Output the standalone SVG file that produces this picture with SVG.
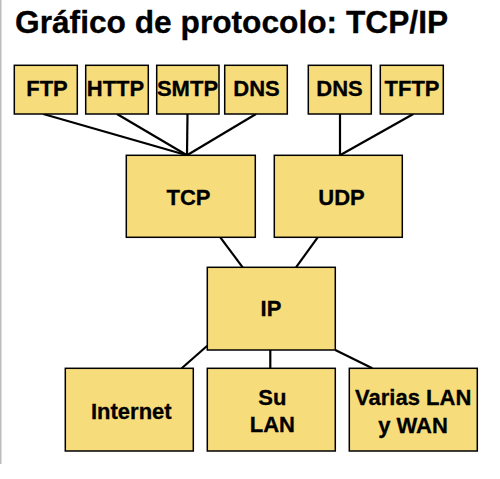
<svg xmlns="http://www.w3.org/2000/svg" width="500" height="479" viewBox="0 0 500 479">
<style>
.box{fill:#F7DC7B;stroke:#000;stroke-width:1.5}
.lbl{font-family:"Liberation Sans",Arial,sans-serif;font-weight:bold;font-size:22px;fill:#000;text-anchor:middle;stroke:#000;stroke-width:0.3}
.title{font-family:"Liberation Sans",Arial,sans-serif;font-weight:bold;font-size:31.7px;fill:#000;stroke:#000;stroke-width:0.3}
.conn line{stroke:#000;stroke-width:2.2}
</style>
<rect x="0" y="0" width="500" height="479" fill="#fff"/>
<line x1="0.75" y1="0" x2="0.75" y2="464" stroke="#bdbdbd" stroke-width="1.5"/>
<text class="title" x="15" y="32.5">Gráfico de protocolo: TCP/IP</text>
<g id="connectors" class="conn">
<line x1="43.3" y1="114" x2="187" y2="155.3"/>
<line x1="117" y1="114" x2="187" y2="155.3"/>
<line x1="187.5" y1="114" x2="187" y2="155.3"/>
<line x1="256" y1="114" x2="187" y2="155.3"/>
<line x1="340" y1="114" x2="340" y2="155.3"/>
<line x1="413.3" y1="114" x2="340" y2="155.3"/>
<line x1="220.3" y1="237.3" x2="242.7" y2="267.3"/>
<line x1="317.7" y1="237.3" x2="296" y2="267.3"/>
<line x1="207.3" y1="345.7" x2="181.7" y2="368.3"/>
<line x1="270.3" y1="350" x2="270.3" y2="368.3"/>
<line x1="335.3" y1="350" x2="372.3" y2="368.3"/>
</g>
<g id="ftp"><rect class="box" x="14.3" y="65.3" width="63" height="48.7"/><text class="lbl" x="47" y="96">FTP</text></g>
<g id="http"><rect class="box" x="85.7" y="65.3" width="62.6" height="48.7"/><text class="lbl" x="115.5" y="96">HTTP</text></g>
<g id="smtp"><rect class="box" x="156.7" y="65.3" width="62.3" height="48.7"/><text class="lbl" x="187.5" y="96">SMTP</text></g>
<g id="dns1"><rect class="box" x="224.7" y="65.3" width="62.6" height="48.7"/><text class="lbl" x="256.5" y="96">DNS</text></g>
<g id="dns2"><rect class="box" x="308.3" y="65.3" width="63" height="48.7"/><text class="lbl" x="339.5" y="96">DNS</text></g>
<g id="tftp"><rect class="box" x="380.3" y="65.3" width="63" height="48.7"/><text class="lbl" x="412" y="96">TFTP</text></g>
<g id="tcp"><rect class="box" x="126.3" y="155.3" width="129" height="82"/><text class="lbl" x="188.5" y="205">TCP</text></g>
<g id="udp"><rect class="box" x="274.3" y="155.3" width="128" height="82"/><text class="lbl" x="341.5" y="205">UDP</text></g>
<g id="ip"><rect class="box" x="207.3" y="267.3" width="128" height="82.7"/><text class="lbl" x="271" y="315.7">IP</text></g>
<g id="internet"><rect class="box" x="65.3" y="368.3" width="128" height="82.7"/><text class="lbl" x="131.3" y="418.7">Internet</text></g>
<g id="sulan"><rect class="box" x="207.3" y="368.3" width="128" height="82.7"/><text class="lbl" x="272.3" y="405">Su</text><text class="lbl" x="272.3" y="432.3">LAN</text></g>
<g id="varias"><rect class="box" x="349.3" y="368.3" width="128" height="82.7"/><text class="lbl" x="413.2" y="405">Varias LAN</text><text class="lbl" x="413" y="432.5">y WAN</text></g>
</svg>
